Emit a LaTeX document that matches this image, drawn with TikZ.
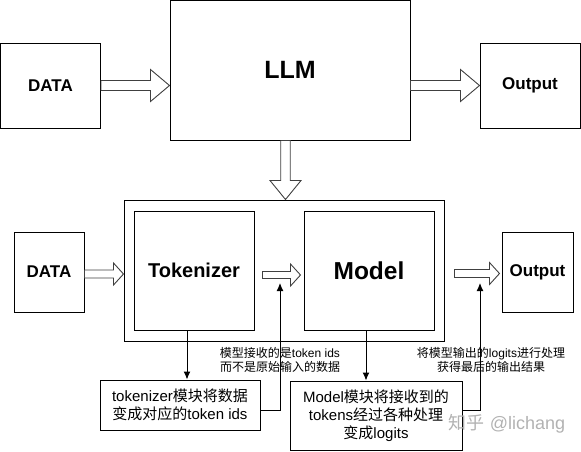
\documentclass[tikz,border=0pt]{standalone}
\usepackage{fontspec}
\setmainfont{Liberation Sans}
\newfontfamily\cjk{Noto Sans CJK SC}
\usetikzlibrary{arrows.meta,calc}
\newcommand{\zh}[1]{{\cjk #1}}
% hollow block arrows: start, end, body half width, head half width, head length
\newcommand{\hollowright}[5]{%
  \draw[hollow] let \p1=#1, \p2=#2 in
    (\x1,\y1+#3pt) -- (\x2-#5pt,\y1+#3pt) -- (\x2-#5pt,\y1+#4pt) -- (\x2,\y1)
    -- (\x2-#5pt,\y1-#4pt) -- (\x2-#5pt,\y1-#3pt) -- (\x1,\y1-#3pt) -- cycle;}
\newcommand{\hollowdown}[5]{%
  \draw[hollow] let \p1=#1, \p2=#2 in
    (\x1-#3pt,\y1) -- (\x1-#3pt,\y2+#5pt) -- (\x1-#4pt,\y2+#5pt) -- (\x1,\y2)
    -- (\x1+#4pt,\y2+#5pt) -- (\x1+#3pt,\y2+#5pt) -- (\x1+#3pt,\y1) -- cycle;}
\tikzset{
  box/.style={draw,line width=1pt,inner sep=0pt,font=\bfseries},
  note/.style={draw,line width=1pt,inner sep=0pt,align=center,font=\fontsize{15}{18}\selectfont},
  remark/.style={align=center,inner sep=0pt,font=\fontsize{12}{14}\selectfont},
  hollow/.style={draw=black!75,line width=0.9pt,fill=white},
}
\begin{document}
\begin{tikzpicture}[x=1pt,y=-1pt,>={Latex[length=8pt,width=7pt]},line width=1pt]
  \useasboundingbox (0,0) rectangle (581,451);

  % Top row
  \node[box,minimum width=100pt,minimum height=85pt,font=\bfseries\fontsize{17}{20}\selectfont] (data) at (50.5,85.5) {DATA};
  \node[box,minimum width=240pt,minimum height=139.5pt,font=\bfseries\fontsize{25}{30}\selectfont] (llm) at (290,70.25) {LLM};
  \node[box,minimum width=100pt,minimum height=85pt,font=\bfseries\fontsize{17}{20}\selectfont] (out) at (530,85.5) {Output};

  \hollowright{(data.east)}{(llm.west)}{5}{16}{19}
  \hollowright{(llm.east |- out.west)}{(out.west)}{5}{16}{19}

  % Pipeline frame
  \node[box,minimum width=320pt,minimum height=141pt] (frame) at (284,270.5) {};
  \node[box,minimum width=120pt,minimum height=119pt,font=\bfseries\fontsize{20}{24}\selectfont] (tok) at (194,270.5) {Tokenizer};
  \node[box,minimum width=130pt,minimum height=119pt,font=\bfseries\fontsize{24.5}{29}\selectfont] (model) at (369,270.5) {Model};
  \node[box,minimum width=70pt,minimum height=80pt,font=\bfseries\fontsize{17}{20}\selectfont] (data2) at (49,272) {DATA};
  \node[box,minimum width=71pt,minimum height=80pt,font=\bfseries\fontsize{17}{20}\selectfont] (out2) at (537.5,272) {Output};

  \hollowdown{([xshift=-4.5pt]llm.south)}{(frame.north)}{4.75}{15.5}{19}
  \hollowright{([yshift=-2pt]data2.east)}{(frame.west)}{4}{11}{10}
  \hollowright{([xshift=8pt,yshift=-4.5pt]tok.east)}{([xshift=-3pt]model.west)}{3.5}{11}{10}
  \hollowright{([xshift=10pt,yshift=-3pt]frame.east)}{([xshift=-2pt]out2.west)}{4}{11}{10}

  % Notes
  \node[note,minimum width=160pt,minimum height=50pt] (note1) at (180,405)
    {tokenizer\zh{模块将数据}\\\zh{变成对应的}token ids};
  \node[note,minimum width=172pt,minimum height=69pt] (note2) at (376,415.5)
    {Model\zh{模块将接收到的}\\tokens\zh{经过各种处理}\\\zh{变成}logits};
  \node[remark] (rem1) at (280,360) {\zh{模型接收的是}token ids\\\zh{而不是原始输入的数据}};
  \node[remark] (rem2) at (491,360) {\zh{将模型输出的}logits\zh{进行处理}\\\zh{获得最后的输出结果}};

  \coordinate (tokup) at (280,283);
  \coordinate (outup) at (480,283);
  \draw[->] ([xshift=-7pt]tok.south) -- ([xshift=-7pt]tok.south |- note1.north);
  \draw[->] ([xshift=-3pt]model.south) -- ([xshift=-3pt]model.south |- note2.north);
  \draw[->] ([yshift=-5pt]note1.east) -| (tokup);
  \draw[->] ([yshift=5.5pt]note2.east) -| (outup);

  % Watermark
  \node[text=black!30,font=\fontsize{18}{20}\selectfont] (mark) at (507,424) {\zh{知乎} @lichang};
\end{tikzpicture}
\end{document}
